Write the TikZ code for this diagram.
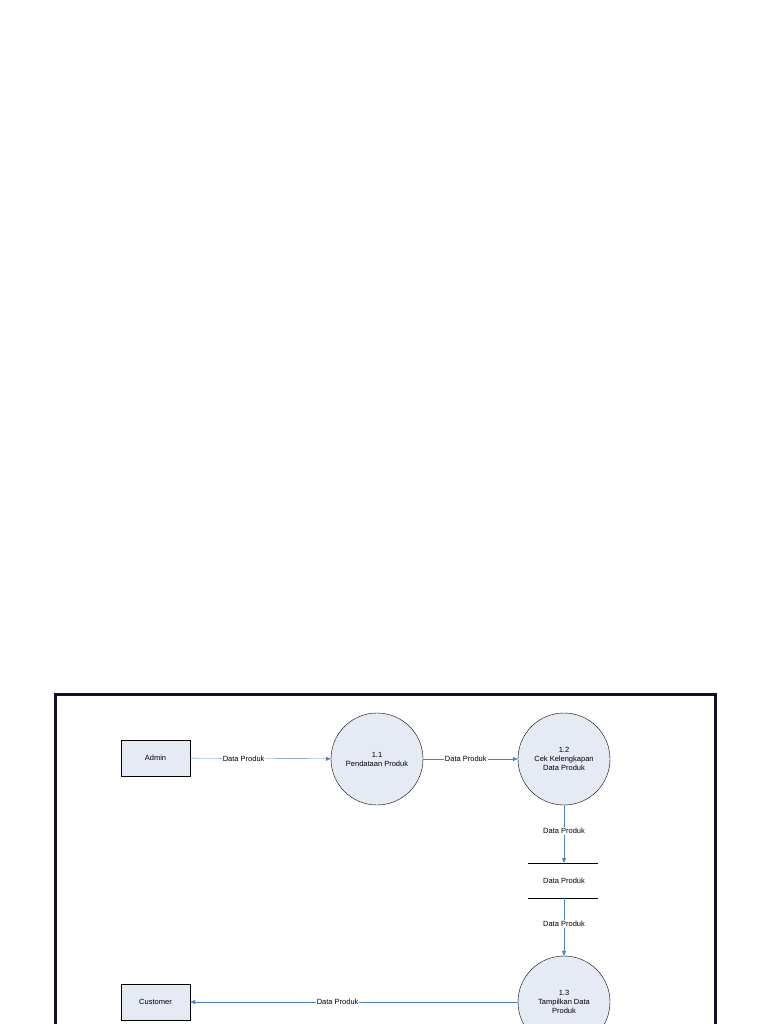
\documentclass[tikz,border=0pt]{standalone}
\usepackage{fontspec}
\setmainfont{Liberation Sans}
\usetikzlibrary{arrows.meta}
\definecolor{fillc}{HTML}{E6EAF5}
\definecolor{flow}{HTML}{4F81BD}
\definecolor{frame}{HTML}{101030}
\begin{document}
\begin{tikzpicture}[x=1pt,y=-1pt,
  ent/.style={draw, fill=fillc, minimum width=69pt, minimum height=36pt, font=\fontsize{7.5}{9}\selectfont},
  proc/.style={draw, circle, fill=fillc, minimum size=92pt, inner sep=0pt, align=center, font=\fontsize{7.5}{9}\selectfont},
  flowline/.style={draw=flow, -{Triangle[length=5pt,width=4pt]}},
  lbl/.style={fill=white, inner sep=1pt, font=\fontsize{7.5}{9}\selectfont}]
\useasboundingbox (0,0) rectangle (768,1024);
\draw[frame, line width=3pt] (55,1030) -- (55,694) -- (715,694) -- (715,1030);
\node[ent] (admin) at (155.5,758) {Admin};
\node[ent] (cust) at (155.5,1002) {Customer};
\node[proc] (p11) at (377,759) {1.1\\Pendataan Produk};
\node[proc] (p12) at (564,759) {1.2\\Cek Kelengkapan\\Data Produk};
\node[proc] (p13) at (564,1002) {1.3\\Tampilkan Data\\Produk};
\coordinate (s1) at (564,863);
\coordinate (s2) at (564,898);
\draw (528,863) -- (598,863);
\draw (528,898) -- (598,898);
\node[font=\fontsize{7.5}{9}\selectfont] (ds) at (564,880.5) {Data Produk};
\draw[flowline] (admin) -- node[lbl, pos=0.38] {Data Produk} (p11);
\draw[flowline] (p11) -- node[lbl, pos=0.45] {Data Produk} (p12);
\draw[flowline] (p12) -- node[lbl, pos=0.45] {Data Produk} (s1);
\draw[flowline] (s2) -- node[lbl, pos=0.45] {Data Produk} (p13);
\draw[flowline] (p13) -- node[lbl, pos=0.55] {Data Produk} (cust);
\end{tikzpicture}
\end{document}
